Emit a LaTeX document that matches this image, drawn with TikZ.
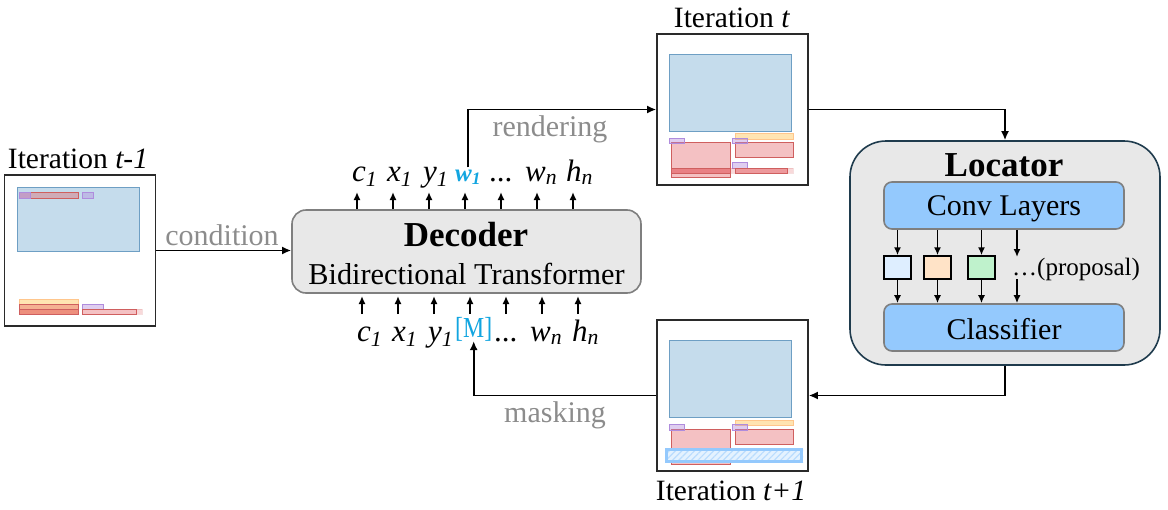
\documentclass[tikz,border=0pt]{standalone}
\usepackage{fontspec}
\setmainfont{Liberation Serif}
\usetikzlibrary{arrows.meta,patterns.meta}
\definecolor{graytext}{HTML}{8C8C8C}
\definecolor{mblue}{HTML}{12A5E0}
\definecolor{panelgray}{HTML}{E8E8E8}
\definecolor{edgegray}{HTML}{7F7F7F}
\definecolor{lblue}{HTML}{94C9FD}
\definecolor{tbfill}{HTML}{C5DCEC}
\definecolor{tbedge}{HTML}{6E9FC4}
\definecolor{trededge}{HTML}{CF5F5F}
\definecolor{tredfill}{HTML}{E2555A}
\definecolor{tpfill}{HTML}{B48BDC}
\definecolor{locedge}{HTML}{1F3B4D}
\definecolor{framec}{HTML}{2A2A2A}
\newcommand{\fs}[1]{\fontsize{#1}{#1}\selectfont}
\newcommand{\tbl}[4]{\path[tblue] (#1,#2) rectangle (#3,#4);}
\newcommand{\trd}[4]{\path[tred] (#1,#2) rectangle (#3,#4);}
\newcommand{\tdr}[4]{\path[tred,fill opacity=.6,line width=1pt] (#1,#2) rectangle (#3,#4);}
\newcommand{\tlr}[4]{\path[tred,draw opacity=.2,fill opacity=.22] (#1,#2) rectangle (#3,#4);}
\newcommand{\tpu}[4]{\path[tpurple] (#1,#2) rectangle (#3,#4);}
\newcommand{\tor}[4]{\path[torange] (#1,#2) rectangle (#3,#4);}
\tikzset{
  x=1pt,y=-1pt,
  flow/.style={draw=black,line width=1.9pt,-{Latex[length=9pt,width=8pt]}},
  small/.style={draw=black,line width=1.7pt,-{Latex[length=8pt,width=7pt]}},
  frame/.style={draw=framec,line width=1.6pt,fill=white,minimum width=151pt,minimum height=151pt,inner sep=0pt},
  ittext/.style={inner sep=0pt,font=\fs{29.5}},
  graylab/.style={inner sep=0pt,text=graytext,font=\fs{30}},
  tok/.style={anchor=base west,inner sep=0pt,font=\fs{31}\itshape},
  tblue/.style={draw=tbedge,fill=tbfill,line width=.8pt},
  tred/.style={draw=trededge,fill=tredfill,fill opacity=.36,line width=.8pt},
  tpurple/.style={draw=purple!40!blue!45,fill=tpfill,fill opacity=.42,line width=.8pt},
  torange/.style={draw=orange!45,fill=orange!70!yellow,fill opacity=.3,line width=.8pt},
  lblock/.style={draw=edgegray,line width=1.6pt,fill=lblue,rounded corners=8pt,minimum width=240pt,minimum height=47pt,inner sep=0pt},
  blocktext/.style={inner sep=0pt,font=\fs{30}},
  prop/.style={draw=black,line width=1.5pt,minimum width=27pt,minimum height=23pt,inner sep=0pt},
}
\begin{document}
\begin{tikzpicture}
\useasboundingbox (0,0) rectangle (1168,509);
% frames
\node[frame] (fprev) at (80,250.5) {};
\node[frame] (fcur) at (732.5,109.5) {};
\node[frame] (fnext) at (732.5,395.5) {};
\node[ittext] (lprev) at (78,159) {Iteration \textit{t-1}};
\node[ittext] (lcur) at (732,18) {Iteration \textit{t}};
\node[ittext] (lnext) at (731,491) {Iteration \textit{t+1}};
% thumbnail: previous
\tbl{17}{187}{139}{251}
\trd{19}{192}{78}{198}
\tpu{19}{192}{30}{198}
\tpu{82}{192}{93}{198}
\tor{19}{299}{78}{314}
\trd{19}{304}{78}{314}
\trd{19}{309}{78}{314}
\tpu{82}{304}{103}{309}
\trd{82}{309}{136}{314}
\tlr{136}{309}{142}{314}
% thumbnail: current
\tbl{669}{54}{791}{131}
\tor{735}{133}{793}{139}
\trd{671}{142.5}{730}{177}
\trd{735}{142.5}{793}{157}
\tpu{669}{138}{684}{143}
\tpu{732}{138}{747}{143}
\tpu{732}{162}{747}{168}
\tdr{671}{168}{730}{173}
\tlr{730}{168}{735}{173}
\tdr{735}{168}{787}{173}
\tlr{787}{168}{793}{173}
% thumbnail: next
\tbl{669}{340}{791}{417}
\tor{735}{420}{793}{425}
\trd{671}{429}{730}{464}
\trd{735}{429}{793}{444}
\tpu{669}{424}{684}{430}
\tpu{732}{424}{747}{430}
\path[fill=lblue!25] (665,448) rectangle (803,462.5);
\path[pattern={Lines[angle=45,distance=4.5pt,line width=1.2pt]},pattern color=lblue!65] (665,448) rectangle (803,462.5);
\draw[draw=lblue,line width=2.6pt] (666.3,449.3) rectangle (801.7,461.2);
% decoder
\node[draw=edgegray,line width=1.6pt,fill=panelgray,rounded corners=14pt,minimum width=349pt,minimum height=83pt,inner sep=0pt] (dec) at (466.5,251.5) {};
\node[inner sep=0pt,font=\fs{35}\bfseries] (dectitle) at (466,235) {Decoder};
\node[inner sep=0pt,font=\fs{30.3}] (decsub) at (466.5,274) {Bidirectional Transformer};
% top tokens
\node[tok] (tc) at (352,181) {c\textsubscript{1}};
\node[tok] (tx) at (387,181) {x\textsubscript{1}};
\node[tok] (ty) at (423,181) {y\textsubscript{1}};
\node[tok,text=mblue,font=\fs{25}\itshape\bfseries] (tw) at (455,181) {w\textsubscript{1}};
\node[tok,font=\fs{31}] (td) at (489,181) {...};
\node[tok] (twn) at (525,181) {w\textsubscript{\textit{n}}};
\node[tok] (thn) at (566,181) {h\textsubscript{\textit{n}}};
% bottom tokens
\node[tok] (bc) at (357,341) {c\textsubscript{1}};
\node[tok] (bx) at (392,341) {x\textsubscript{1}};
\node[tok] (by) at (428,341) {y\textsubscript{1}};
\node[tok,text=mblue,font=\fs{29}] (bm) at (455,337) {\scalebox{.82}[1]{[M]}};
\node[tok,font=\fs{31}] (bd) at (494,341) {...};
\node[tok] (bwn) at (530,341) {w\textsubscript{\textit{n}}};
\node[tok] (bhn) at (572,341) {h\textsubscript{\textit{n}}};
% token arrows
\coordinate (a1) at (357,192);\coordinate (a2) at (393,192);\coordinate (a3) at (429,192);
\coordinate (a4) at (465,192);\coordinate (a5) at (501,192);\coordinate (a6) at (537,192);\coordinate (a7) at (573,192);
\foreach \i in {1,...,7}{\draw[small] (a\i |- dec.north) -- (a\i);}
\coordinate (b1) at (362,314);\coordinate (b2) at (398,314);\coordinate (b3) at (434,314);
\coordinate (b4) at (470,314);\coordinate (b5) at (506,314);\coordinate (b6) at (542,314);\coordinate (b7) at (578,314);
\coordinate (bt) at (0,296);
\foreach \i in {1,...,7}{\draw[small] (b\i) -- (b\i |- bt);}
% locator
\node[draw=locedge,line width=1.6pt,fill=panelgray,rounded corners=36pt,minimum width=310pt,minimum height=224pt,inner sep=0pt] (loc) at (1005,253) {};
\node[inner sep=0pt,font=\fs{35}\bfseries] (loctitle) at (1004,165) {Locator};
\node[lblock] (conv) at (1004,205.5) {};
\node[blocktext] (convt) at (1004,209) {Conv Layers};
\node[lblock] (cls) at (1004,327.5) {};
\node[blocktext] (clst) at (1004,329) {Classifier};
\node[prop,fill=blue!50!cyan!13] (p1) at (897.5,267.5) {};
\node[prop,fill=orange!22] (p2) at (937.5,267.5) {};
\node[prop,fill=green!60!teal!25] (p3) at (981.5,267.5) {};
\node[inner sep=0pt,anchor=west,font=\fs{25}] (p4) at (1012,269) {\textellipsis(proposal)};
\draw[small] (p1 |- conv.south) -- (p1.north);
\draw[small] (p2 |- conv.south) -- (p2.north);
\draw[small] (p3 |- conv.south) -- (p3.north);
\draw[small] (p1.south) -- (p1 |- cls.north);
\draw[small] (p2.south) -- (p2 |- cls.north);
\draw[small] (p3.south) -- (p3 |- cls.north);
\coordinate (p4u) at (1017,257);\coordinate (p4d) at (1017,279);
\draw[small] (p4u |- conv.south) -- (p4u);
\draw[small] (p4d) -- (p4d |- cls.north);
% main connectors
\coordinate (prevout) at (fprev.east);
\draw[flow] (prevout) -- (prevout -| dec.west);
\node[graylab] (lcond) at (222,235) {condition};
\draw[flow] (tw.north) ++(0,-2) |- (fcur.west);
\node[graylab] (lrend) at (550,129) {rendering};
\draw[flow] (fcur.east) -| (loc.north);
\draw[flow] (loc.south) |- (fnext.east);
\draw[flow] (fnext.west) -| (bm.south);
\node[graylab] (lmask) at (555,415) {masking};
\end{tikzpicture}
\end{document}
